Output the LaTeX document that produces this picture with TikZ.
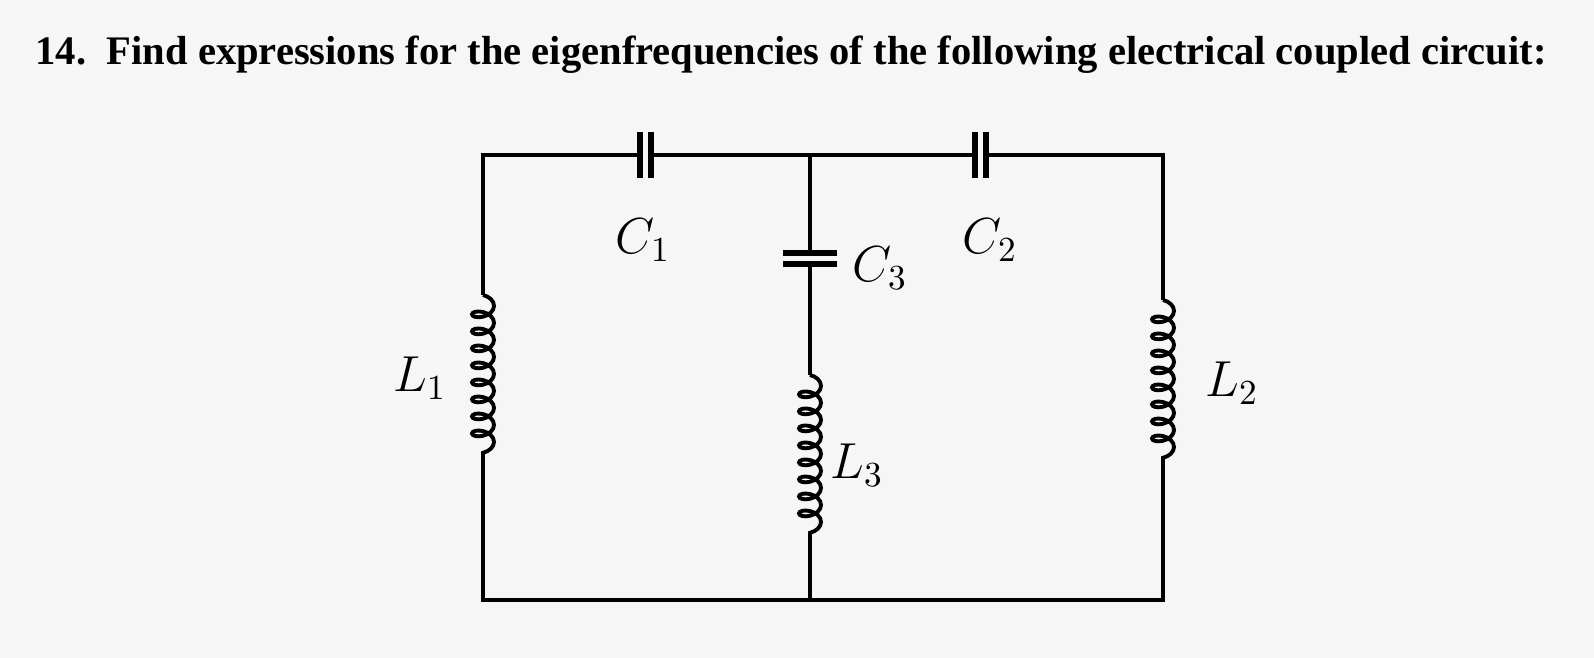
\documentclass[tikz,border=0pt]{standalone}
\usepackage{fontspec}
\newfontfamily\titlefont{Liberation Serif}
\usetikzlibrary{decorations.pathmorphing,calc}
\begin{document}
\begin{tikzpicture}[x=0.01cm,y=-0.01cm,
  wire/.style={line width=1.3pt},
  plate/.style={line width=1.5pt},
  ind/.style={line width=1.1pt,decorate,decoration={coil,aspect=0.6,segment length=1.7mm,amplitude=1.1mm}},
  lab/.style={font=\Large}]
\fill[gray!7] (0,0) rectangle (1594,658);
\useasboundingbox (0,0) rectangle (1594,658);
\node[anchor=west,inner sep=0pt,font=\titlefont\bfseries\fontsize{12.6}{15}\selectfont] (title) at (35,55) {\resizebox{15.1cm}{!}{14.\ \ Find expressions for the eigenfrequencies of the following electrical coupled circuit:}};
\coordinate (tl) at (483,155); \coordinate (tm) at (810,155); \coordinate (tr) at (1163,155);
\coordinate (bl) at (483,600); \coordinate (bm) at (810,600); \coordinate (br) at (1163,600);
\coordinate (c1a) at (640,155); \coordinate (c1b) at (651,155);
\coordinate (c2a) at (975,155); \coordinate (c2b) at (986,155);
\coordinate (c3a) at (810,253); \coordinate (c3b) at (810,264);
\coordinate (l1a) at (483,295); \coordinate (l1b) at (483,455);
\coordinate (l3a) at (810,375); \coordinate (l3b) at (810,545);
\coordinate (l2a) at (1163,300); \coordinate (l2b) at (1163,460);
\draw[wire] (c1a) -- (tl) -- (l1a);
\draw[wire] (l1b) -- (bl) -- (br) -- (l2b);
\draw[wire] (l2a) -- (tr) -- (c2b);
\draw[wire] (c1b) -- (c2a);
\draw[wire] (tm) -- (c3a);
\draw[wire] (c3b) -- (l3a);
\draw[wire] (l3b) -- (bm);
\draw[plate] ($(c1a)+(0,-23)$) -- ($(c1a)+(0,23)$);
\draw[plate] ($(c1b)+(0,-23)$) -- ($(c1b)+(0,23)$);
\draw[plate] ($(c2a)+(0,-23)$) -- ($(c2a)+(0,23)$);
\draw[plate] ($(c2b)+(0,-23)$) -- ($(c2b)+(0,23)$);
\draw[plate] ($(c3a)+(-27,0)$) -- ($(c3a)+(27,0)$);
\draw[plate] ($(c3b)+(-27,0)$) -- ($(c3b)+(27,0)$);
\draw[ind] (l1a) -- (l1b);
\draw[ind] (l3a) -- (l3b);
\draw[ind] (l2a) -- (l2b);
\node[lab] (C1) at (643,240) {$C_1$};
\node[lab] (C2) at (990,240) {$C_2$};
\node[lab] (C3) at (880,268) {$C_3$};
\node[lab] (L1) at (420,378) {$L_1$};
\node[lab] (L3) at (857,465) {$L_3$};
\node[lab] (L2) at (1232,383) {$L_2$};
\end{tikzpicture}
\end{document}
